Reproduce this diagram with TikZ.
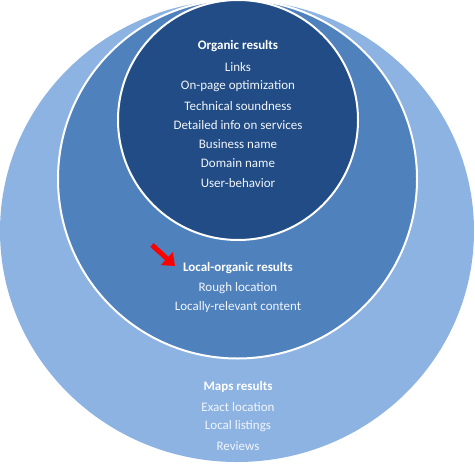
\documentclass[tikz,border=0pt]{standalone}
\usepackage{fontspec}
\setmainfont{Carlito}
\usepackage{xcolor}
\usepackage{tikz}
\usetikzlibrary{arrows.meta, positioning}

\definecolor{mapsblue}{HTML}{8DB3E2}
\definecolor{localblue}{HTML}{4F81BD}
\definecolor{organicblue}{HTML}{214C85}

\tikzset{
	head/.style={text=white, font=\fontsize{13}{15}\selectfont\bfseries, inner sep=0pt},
	item/.style={text=white!92!localblue, font=\fontsize{13}{15}\selectfont, inner sep=0pt},
}

\begin{document}
\begin{tikzpicture}[x=1pt, y=-1pt]
			\useasboundingbox (0,0) rectangle (474,476);
			% circles
			\fill [mapsblue] (237,231) ellipse [x radius=237pt, y radius=231pt];
			\filldraw [fill=localblue, draw=white, line width=2pt] (237.5,179) circle [radius=179.5pt];
			\filldraw [fill=organicblue, draw=white, line width=2pt] (238,120) circle [radius=120pt];
			% organic
			\node [head] (org) at (238,46) {Organic results};
			\node [item] (o1) at (238,67) {Links};
			\node [item] (o2) at (238,86) {On-page optimization};
			\node [item] (o3) at (238,106) {Technical soundness};
			\node [item] (o4) at (238,125) {Detailed info on services};
			\node [item] (o5) at (238,144) {Business name};
			\node [item] (o6) at (238,163) {Domain name};
			\node [item] (o7) at (238,183) {User-behavior};
			% local-organic
			\node [head] (loc) at (238,268) {Local-organic results};
			\node [item] (l1) at (238,288) {Rough location};
			\node [item] (l2) at (238,307) {Locally-relevant content};
			% maps
			\node [head] (map) at (238,387) {Maps results};
			\node [item] (m1) at (238,407) {Exact location};
			\node [item] (m2) at (238,426) {Local listings};
			\node [item] (m3) at (238,446) {Reviews};
			% red arrow
			\coordinate (tail) at (152,245);
			\coordinate (tip) at (175,266);
			\draw [red, line width=5pt, -{Triangle[length=11pt, width=17pt]}] (tail) -- (tip);
		\end{tikzpicture}
\end{document}
